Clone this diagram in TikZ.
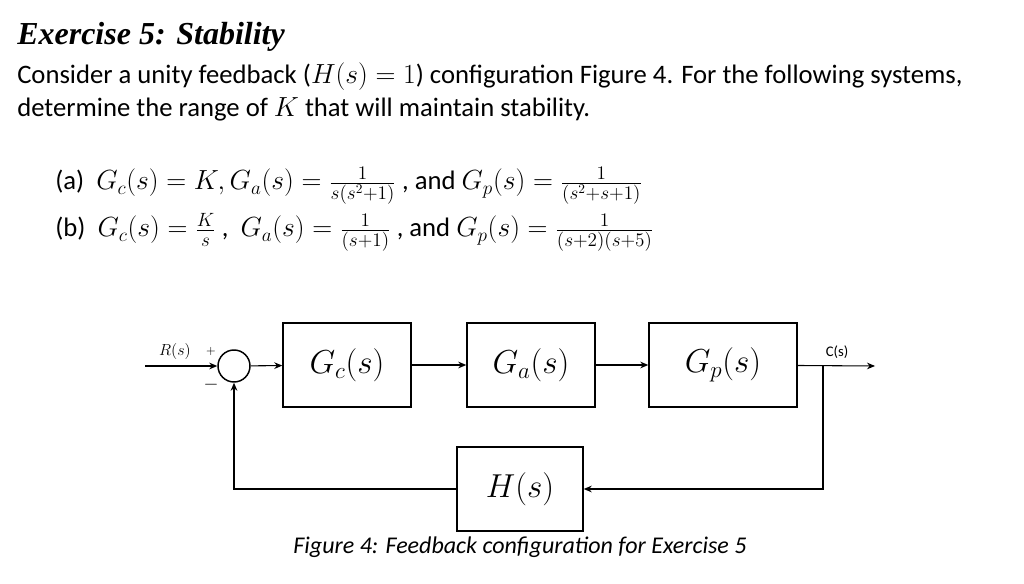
\documentclass[tikz,border=0pt]{standalone}
\usepackage{fontspec}
\setmainfont{Carlito}
\newfontfamily\titlefont{Liberation Serif}
\usetikzlibrary{arrows.meta}
\begin{document}
\begin{tikzpicture}[x=0.75pt,y=-0.75pt,
  blk/.style={draw,line width=1.1pt,minimum width=#1*0.75pt,minimum height=63pt,inner sep=0pt,font=\fontsize{24}{28}\selectfont},
  sig/.style={line width=0.8pt,-{Stealth[length=6pt,width=5pt]}},
  txt/.style={anchor=base west,inner sep=0pt,font=\fontsize{20}{24}\selectfont}]
\useasboundingbox (0,0) rectangle (1024,584);
\node[txt,font=\titlefont\bfseries\itshape\fontsize{24}{28}\selectfont] (title) at (17,45) {Exercise 5: Stability};
\node[txt] (l1) at (17,84) {Consider a unity feedback ($H(s)=1$) configuration Figure 4. For the following systems,};
\node[txt] (l2) at (17,117) {determine the range of $K$ that will maintain stability.};
\node[txt] (la) at (55,190) {(a)\ \ $G_c(s)=K, G_a(s)=\frac{1}{s(s^2+1)}$\ , and $G_p(s)=\frac{1}{(s^2+s+1)}$};
\node[txt] (lb) at (55,237) {(b)\ \ $G_c(s)=\frac{K}{s}$\ ,\ \ $G_a(s)=\frac{1}{(s+1)}$\ , and $G_p(s)=\frac{1}{(s+2)(s+5)}$};
\node[draw,line width=1.1pt,circle,minimum size=24pt,inner sep=0pt] (sum) at (234,366) {};
\node[blk=128] (gc) at (347,365) {$G_c(s)$};
\node[blk=128] (ga) at (531,365) {$G_a(s)$};
\node[blk=148] (gp) at (723,365) {$G_p(s)$};
\node[blk=126] (h) at (520,489) {$H(s)$};
\coordinate (in) at (145,366);
\coordinate (out) at (875,366);
\coordinate (br) at (823,366);
\coordinate (hl) at (234,489);
\node[font=\fontsize{13}{15}\selectfont] (rl) at (175,352) {$R(s)$};
\node[font=\small] (pl) at (211,352) {$+$};
\node[font=\Large] (ml) at (211,385) {$-$};
\node[font=\fontsize{11}{13}\selectfont] (cl) at (837,352) {C(s)};
\draw[sig] (in) -- (sum);
\draw[sig] (sum) -- (gc);
\draw[sig] (gc) -- (ga);
\draw[sig] (ga) -- (gp);
\draw[sig] (gp) -- (out);
\draw[sig] (br) |- (h);
\draw[sig] (h.west) -- (hl) -- (sum);
\node[font=\itshape\fontsize{18}{21}\selectfont] (cap) at (520,547) {Figure 4: Feedback configuration for Exercise 5};
\end{tikzpicture}
\end{document}
